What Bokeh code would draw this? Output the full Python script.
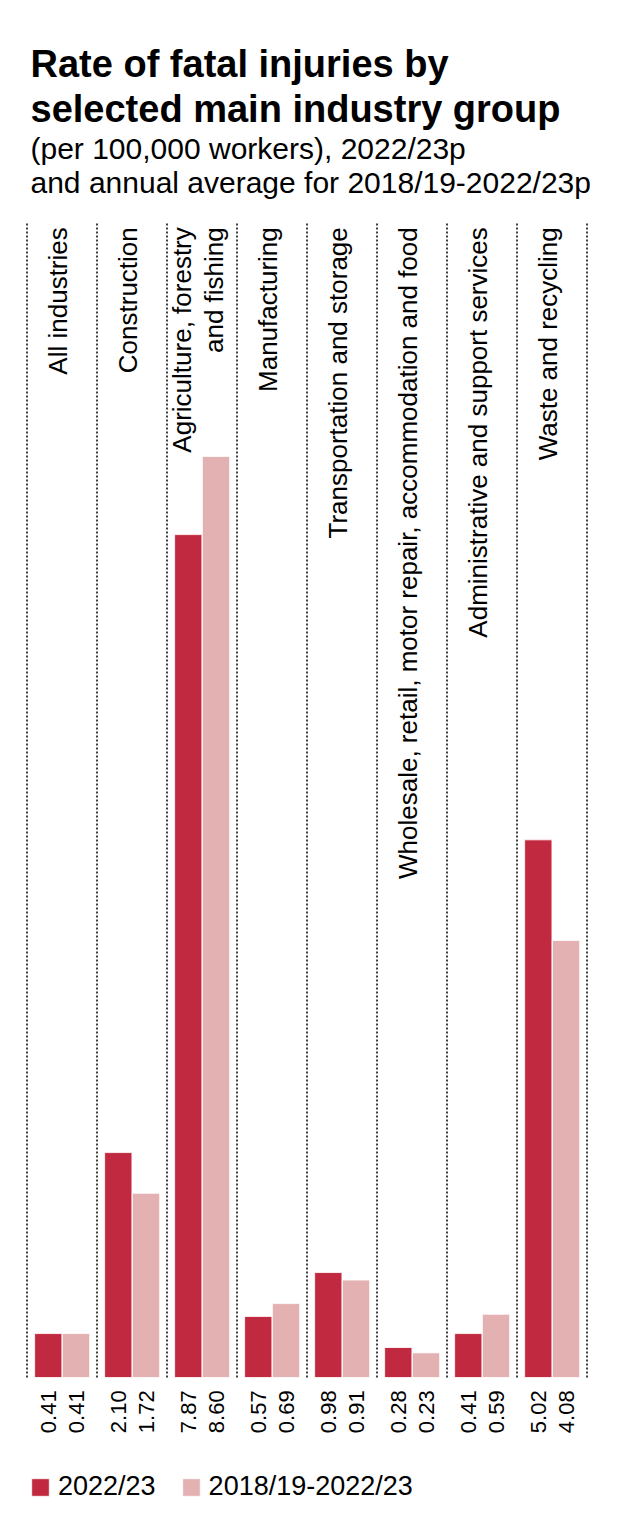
import math
from bokeh.plotting import figure
from bokeh.models import ColumnDataSource, Range1d, Label, Legend, LegendItem
from bokeh.transform import dodge
from bokeh.core.properties import value
from bokeh.embed import file_html
from bokeh.resources import INLINE

# ---- data ----
categories = [
    "All industries",
    "Construction",
    "Agriculture, forestry\nand fishing",
    "Manufacturing",
    "Transportation and storage",
    "Wholesale, retail, motor repair, accommodation and food",
    "Administrative and support services",
    "Waste and recycling",
]
rate_2022_23 = [0.41, 2.10, 7.87, 0.57, 0.98, 0.28, 0.41, 5.02]
avg_2018_19_2022_23 = [0.41, 1.72, 8.60, 0.69, 0.91, 0.23, 0.59, 4.08]
series_labels = ["2022/23", "2018/19-2022/23"]
title_lines = ["Rate of fatal injuries by", "selected main industry group"]
subtitle_lines = ["(per 100,000 workers), 2022/23p",
                  "and annual average for 2018/19-2022/23p"]

DARK = "#C0293F"
LIGHT = "#E3B1B1"
FONT = "Liberation Sans"
W, H = 619, 1536

n = len(categories)
idx = list(range(n))
src = ColumnDataSource(dict(
    x=idx,
    cat=categories,
    a=rate_2022_23,
    b=avg_2018_19_2022_23,
    a_txt=[f"{v:.2f}" for v in rate_2022_23],
    b_txt=[f"{v:.2f}" for v in avg_2018_19_2022_23],
))

p = figure(width=W, height=H, output_backend="svg", toolbar_location=None,
           x_range=Range1d(-0.8786, 7.964), y_range=Range1d(-1.4846, 12.857),
           min_border=0, outline_line_color=None)
p.axis.visible = False
p.grid.visible = False
p.background_fill_color = "white"
p.border_fill_color = "white"

# dotted separators
sep_x = [i - 0.5 for i in range(n + 1)]
sep_src = ColumnDataSource(dict(x=sep_x, y0=[0] * len(sep_x), y1=[10.78] * len(sep_x)))
p.segment(x0="x", y0="y0", x1="x", y1="y1", source=sep_src,
          line_color="black", line_width=1.5, line_dash="2 2")

# bars
r_a = p.vbar(x=dodge("x", -0.196, range=p.x_range), top="a", bottom=0, width=0.39,
             source=src, fill_color=DARK, line_color="white", line_width=0.8)
r_b = p.vbar(x=dodge("x", 0.2, range=p.x_range), top="b", bottom=0, width=0.39,
             source=src, fill_color=LIGHT, line_color="white", line_width=0.8)

# category labels (rotated, anchored at top)
p.text(x=dodge("x", -0.06, range=p.x_range), y=10.74, text="cat", source=src,
       angle=math.pi / 2, text_align="right", text_baseline="middle",
       text_font=value(FONT), text_font_size="26px", text_color="black",
       text_line_height=1.05)

# value labels
p.text(x=dodge("x", -0.196, range=p.x_range), y=-0.12, text="a_txt", source=src,
       angle=math.pi / 2, text_align="right", text_baseline="middle",
       text_font=value(FONT), text_font_size="22px", text_color="black")
p.text(x=dodge("x", 0.2, range=p.x_range), y=-0.12, text="b_txt", source=src,
       angle=math.pi / 2, text_align="right", text_baseline="middle",
       text_font=value(FONT), text_font_size="22px", text_color="black")

# title & subtitle
for txt, base in zip(title_lines, [63, 108]):
    p.add_layout(Label(x=30, y=H - base, x_units="screen", y_units="screen",
                       text=txt, text_font=FONT, text_font_size="38px",
                       text_font_style="bold", text_color="black",
                       text_baseline="alphabetic"))
for txt, base in zip(subtitle_lines, [148, 182]):
    p.add_layout(Label(x=30, y=H - base, x_units="screen", y_units="screen",
                       text=txt, text_font=FONT, text_font_size="30px",
                       text_color="black", text_baseline="alphabetic"))

# legend
legend = Legend(items=[LegendItem(label=series_labels[0], renderers=[r_a]),
                       LegendItem(label=series_labels[1], renderers=[r_b])],
                orientation="horizontal", location=(29, 34),
                glyph_width=22, glyph_height=22, label_standoff=7, spacing=24,
                padding=0, margin=0, label_text_font=FONT,
                label_text_font_size="27px", label_text_color="black",
                background_fill_alpha=0, border_line_alpha=0,
                label_height=22)
p.add_layout(legend)

open("out.html", "w").write(file_html(p, INLINE))
